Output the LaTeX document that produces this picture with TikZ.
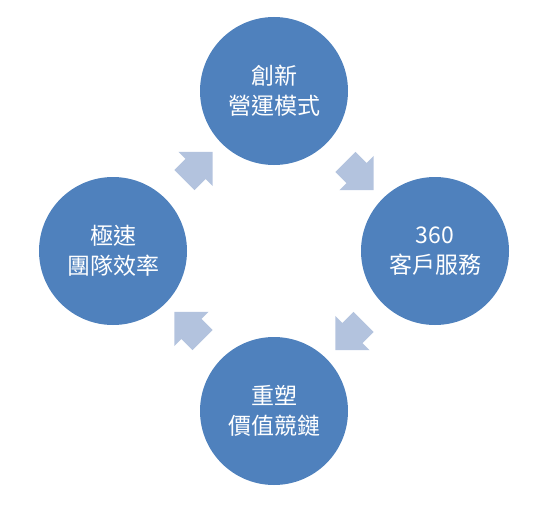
\documentclass[tikz,border=0pt]{standalone}
\usepackage{fontspec}
\newfontfamily\cjk{Noto Sans CJK TC}
\usepackage{tikz}
\usetikzlibrary{shapes.arrows,calc}
\definecolor{circblue}{HTML}{4F81BD}
\definecolor{arrblue}{HTML}{B3C3DE}

\begin{document}
\begin{tikzpicture}[x=1pt,y=1pt,
  disc/.style={circle,fill=circblue,minimum size=148pt,inner sep=0pt,text=white,
    font=\cjk\fontsize{23}{30}\selectfont,align=center},
  blockarrow/.style={single arrow,fill=arrblue,minimum height=40pt,
    single arrow head extend=10pt,inner xsep=0pt,inner ysep=14pt,rotate=#1}]
\useasboundingbox (0,0) rectangle (543,507);
\node[disc] (top) at (274,416) {創新\\營運模式}; %
\node[disc] (right) at (435,256) {360\\客戶服務}; %
\node[disc] (bottom) at (274,96) {重塑\\價值競鏈}; %
\node[disc] (left) at (113,256) {極速\\團隊效率}; %
\node[blockarrow=-45] (toright) at ($(top)!0.5!(right)$) {}; %
\node[blockarrow=-135] (tobottom) at ($(right)!0.5!(bottom)$) {}; %
\node[blockarrow=135] (toleft) at ($(bottom)!0.5!(left)$) {}; %
\node[blockarrow=45] (totop) at ($(left)!0.5!(top)$) {}; %
\end{tikzpicture}
\end{document}
